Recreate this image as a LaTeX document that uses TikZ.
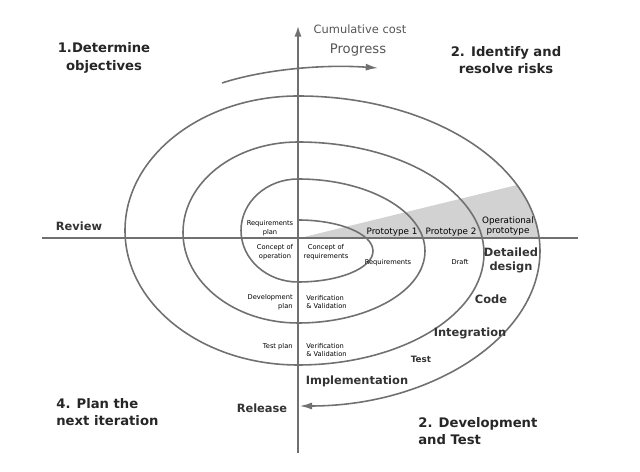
\documentclass[tikz,border=0pt]{standalone}
\usepackage{fontspec}
\setmainfont{DejaVu Sans}
\usetikzlibrary{arrows.meta}
\definecolor{linegray}{RGB}{112,112,112}
\definecolor{txtgray}{RGB}{85,85,85}
\begin{document}
\begin{tikzpicture}[x=0.02cm,y=-0.02cm,
  line/.style={draw=linegray,line width=0.9pt},
  quad/.style={font=\bfseries\fontsize{7.5}{10}\selectfont,text=black!85,inner sep=0pt},
  phase/.style={font=\bfseries\fontsize{6.5}{8}\selectfont,text=black!80,align=center,inner sep=0pt},
  tiny/.style={font=\fontsize{3.8}{4.8}\selectfont,inner sep=0pt},
  proto/.style={font=\fontsize{5}{6}\selectfont,align=center,inner sep=0pt}]
\path[use as bounding box] (0,0) rectangle (640,472);
\fill[gray!35] (300,238) -- (517,185) arc[start angle=-25.2,end angle=-4.8,x radius=242,y radius=155] -- cycle;
\coordinate (west) at (42,238); \coordinate (east) at (578,238);
\coordinate (south) at (298,453); \coordinate (north) at (298,26);
\draw[line] (west) -- (east);
\draw[line,-{Latex[length=6pt,width=4pt]}] (south) -- (north);
\coordinate (start) at (298,220);
\draw[line,-{Latex[length=7pt,width=4pt]},shorten >=1pt] (start)
  arc[start angle=-90,end angle=90,x radius=75,y radius=31]
  arc[start angle=90,end angle=270,x radius=57,y radius=51.5]
  arc[start angle=-90,end angle=90,x radius=127,y radius=72]
  arc[start angle=90,end angle=270,x radius=115,y radius=90.5]
  arc[start angle=-90,end angle=90,x radius=186,y radius=111.5]
  arc[start angle=90,end angle=270,x radius=173,y radius=134.5]
  arc[start angle=-90,end angle=90,x radius=242,y radius=155];
\coordinate (pstart) at (222,83); \coordinate (pend) at (378,68);
\draw[line,-{Latex[length=7pt,width=4pt]}] (pstart) .. controls (262,70) and (320,64) .. (pend);
\node[quad,align=center] (obj) at (104,58) {1.Determine\\objectives};
\node[quad,align=center] (risks) at (506,60) {2. Identify and\\resolve risks};
\node[quad,align=left,anchor=west] (next) at (56,412) {4. Plan the\\next iteration};
\node[quad,align=left,anchor=west] (devtest) at (418,431) {2. Development\\and Test};
\node[font=\fontsize{6.5}{8}\selectfont,text=txtgray,inner sep=0pt] (cost) at (360,29) {Cumulative cost};
\node[font=\fontsize{7.5}{9}\selectfont,text=txtgray,inner sep=0pt] (progress) at (358,50) {Progress};
\node[phase] (review) at (79,226) {Review};
\node[phase] (release) at (262,408) {Release};
\node[phase] (impl) at (357,381) {Implementation};
\node[phase,font=\bfseries\fontsize{5}{6}\selectfont] (test) at (421,359) {Test};
\node[phase] (integ) at (470,333) {Integration};
\node[phase] (code) at (491,299) {Code};
\node[phase] (detail) at (511,260) {Detailed\\design};
\node[proto] (proto1) at (392,232) {Prototype 1};
\node[proto] (proto2) at (451,232) {Prototype 2};
\node[proto] (opproto) at (508,226) {Operational\\prototype};
\node[tiny,align=center] (reqplan) at (270,228) {Requirements\\plan};
\node[tiny,align=center] (conop) at (275,252) {Concept of\\operation};
\node[tiny,align=center] (conreq) at (326,252) {Concept of\\requirements};
\node[tiny] (req) at (388,263) {Requirements};
\node[tiny] (draft) at (460,262) {Draft};
\node[tiny,align=right,anchor=east] (devplan) at (293,302) {Development\\plan};
\node[tiny,align=left,anchor=west] (vvone) at (306,302) {Verification\\\& Validation};
\node[tiny,anchor=east] (testplan) at (293,347) {Test plan};
\node[tiny,align=left,anchor=west] (vvtwo) at (306,350) {Verification\\\& Validation};
\end{tikzpicture}
\end{document}
